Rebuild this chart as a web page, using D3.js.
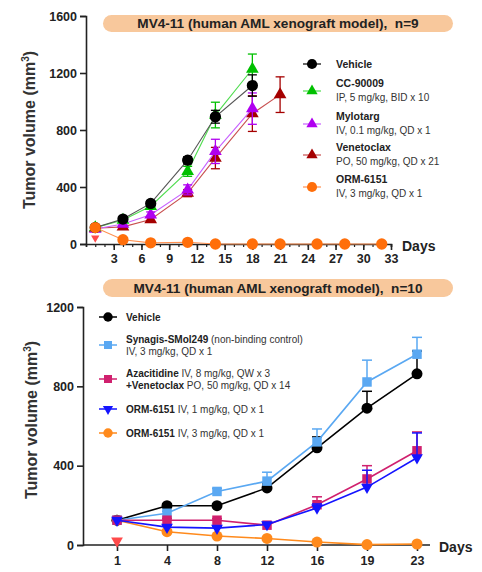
<!DOCTYPE html>
<html>
<head>
<meta charset="utf-8">
<script src="https://cdn.jsdelivr.net/npm/d3@7"></script>
<style>
  body { margin: 0; background: #fff; }
  svg { font-family: "Liberation Sans", Arial, sans-serif; }
  .tick text { font-weight: bold; fill: #222; }
  .domain, .tick line { stroke: #222; stroke-width: 1.6px; }
</style>
</head>
<body>
<div id="chart"></div>
<script>
// ---- top panel data (n=9) ----
const vehDays = [1, 4, 7, 11, 14, 18];
const vehVals = [115, 175, 285, 588, 893, 1112];
const vehErr = [10, 15, 20, 25, 45, 75];

const ccDays = [1, 4, 7, 11, 14, 18];
const ccVals = [115, 168, 265, 510, 905, 1228];
const ccErr = [10, 15, 20, 35, 90, 105];

const myloDays = [1, 4, 7, 11, 14, 18];
const myloVals = [105, 140, 205, 380, 650, 950];
const myloErr = [10, 12, 20, 35, 85, 110];

const venDays = [1, 4, 7, 11, 14, 18, 21];
const venVals = [110, 120, 172, 357, 603, 915, 1048];
const venErr = [10, 10, 15, 25, 75, 125, 125];

const ormDays = [1, 4, 7, 11, 14, 18, 21, 25, 28, 32];
const ormVals = [115, 30, 8, 12, 0, 0, 0, 0, 0, 0];

const topYTicks = [0, 400, 800, 1200, 1600];
const topXTicks = [3, 6, 9, 12, 15, 18, 21, 24, 27, 30, 33];
const topDoseDays = [1];

// ---- bottom panel data (n=10) ----
const botDays = ["1", "4", "8", "12", "16", "19", "23"];
const bVeh = [125, 198, 198, 288, 490, 690, 863];
const bVehErr = [8, 10, 10, 20, 55, 85, 115];
const bSyn = [125, 160, 270, 322, 520, 822, 962];
const bSynErr = [8, 10, 15, 45, 65, 110, 85];
const bAza = [125, 125, 125, 100, 203, 333, 475];
const bAzaErr = [8, 8, 8, 10, 40, 67, 95];
const bOrm1 = [125, 90, 85, 103, 187, 292, 440];
const bOrm1Err = [8, 8, 8, 10, 20, 85, 125];
const bOrm3 = [125, 67, 45, 33, 15, 2, 5];
const bOrm3Err = [8, 5, 4, 3, 2, 1, 1];
const botYTicks = [0, 400, 800, 1200];
const botDoseDays = ["1"];

const svg = d3.select("#chart").append("svg")
  .attr("width", 482)
  .attr("height", 572);

function banner(y, h, label) {
  svg.append("rect")
    .attr("x", 103).attr("y", y)
    .attr("width", 350).attr("height", h)
    .attr("rx", h / 2)
    .attr("fill", "#f8c89c");
  svg.append("text")
    .attr("x", 278).attr("y", y + h / 2 + 4.8)
    .attr("text-anchor", "middle")
    .style("white-space", "pre")
    .attr("font-size", "13.6px")
    .attr("font-weight", "bold")
    .attr("fill", "#222")
    .text(label);
}

function yTitle(x, y) {
  const t = svg.append("text")
    .attr("transform", `translate(${x},${y}) rotate(-90)`)
    .attr("text-anchor", "middle")
    .attr("font-size", "16px")
    .attr("font-weight", "600")
    .attr("fill", "#333");
  t.append("tspan").text("Tumor volume (mm");
  t.append("tspan").attr("dy", -6).attr("font-size", "10px").text("3");
  t.append("tspan").attr("dy", 6).text(")");
}

function symbol(g, type, color, x, y, size) {
  g.append("path")
    .attr("transform", `translate(${x},${y})` + (type === "down" ? " rotate(180)" : ""))
    .attr("d", d3.symbol().type(type === "circle" ? d3.symbolCircle :
      type === "square" ? d3.symbolSquare : d3.symbolTriangle).size(size)())
    .attr("fill", color);
}

// ================= TOP PANEL =================
banner(15, 17, "MV4-11 (human AML xenograft model),  n=9");
yTitle(35, 130);

const xTop = d3.scaleLinear().domain([0, 33]).range([86, 391]);
const yTop = d3.scaleLinear().domain([0, 1600]).range([244, 16]);

svg.append("g")
  .attr("transform", "translate(86,0)")
  .call(d3.axisLeft(yTop).tickValues(topYTicks).tickFormat(d3.format("d")).tickSize(6).tickPadding(3))
  .call(g => g.selectAll("text").attr("font-size", "12.5px"));

svg.append("g")
  .attr("transform", "translate(0,244)")
  .call(d3.axisBottom(xTop).tickValues(d3.range(0, 34)).tickSize(3).tickFormat(""))
  .call(g => g.selectAll(".tick line").style("stroke-width", "1.2px"));

svg.append("g")
  .attr("transform", "translate(0,244)")
  .call(d3.axisBottom(xTop).tickValues(topXTicks).tickSize(6).tickPadding(4))
  .call(g => g.select(".domain").remove())
  .call(g => g.selectAll("text").attr("font-size", "12.5px"));

svg.append("text")
  .attr("x", 402).attr("y", 251)
  .attr("font-size", "14px").attr("font-weight", "bold").attr("fill", "#222")
  .text("Days");

const topSeries = [
  { name: "Venetoclax", days: venDays, vals: venVals, err: venErr, color: "#a50000", line: "#c85050", type: "triangle" },
  { name: "Mylotarg", days: myloDays, vals: myloVals, err: myloErr, color: "#b000f0", line: "#c860ff", type: "triangle" },
  { name: "CC-90009", days: ccDays, vals: ccVals, err: ccErr, color: "#00c000", line: "#50dd50", type: "triangle" },
  { name: "Vehicle", days: vehDays, vals: vehVals, err: vehErr, color: "#000", line: "#555", type: "circle" },
  { name: "ORM-6151", days: ormDays, vals: ormVals, err: ormVals.map(() => 0), color: "#ff6e0a", line: "#ff9050", type: "circle" }
];

topSeries.forEach(s => {
  const pts = s.days.map((d, i) => ({ x: d, y: s.vals[i], e: s.err[i] }));
  const g = svg.append("g");
  g.append("path").datum(pts)
    .attr("fill", "none").attr("stroke", s.line).attr("stroke-width", 1.1)
    .attr("d", d3.line().x(d => xTop(d.x)).y(d => yTop(d.y)));
  pts.filter(p => p.e > 0).forEach(p => {
    const x = xTop(p.x), y1 = yTop(p.y + p.e), y2 = yTop(p.y - p.e);
    g.append("line").attr("x1", x).attr("x2", x).attr("y1", y1).attr("y2", y2)
      .attr("stroke", s.color).attr("stroke-width", 1.3);
    [y1, y2].forEach(yy => g.append("line")
      .attr("x1", x - 4.5).attr("x2", x + 4.5).attr("y1", yy).attr("y2", yy)
      .attr("stroke", s.color).attr("stroke-width", 1.3));
  });
  pts.forEach(p => symbol(g, s.type, s.color, xTop(p.x), yTop(p.y), s.type === "circle" ? 100 : 70));
});

topDoseDays.forEach(d => symbol(svg, "down", "#ff4a4a", xTop(d), 238, 30));

// top legend
const topLegend = [
  { name: "Vehicle", sub: "", color: "#000", type: "circle", y: 64 },
  { name: "CC-90009", sub: "IP, 5 mg/kg, BID x 10", color: "#00c000", line: "#50dd50", type: "triangle", y: 83 },
  { name: "Mylotarg", sub: "IV, 0.1 mg/kg, QD x 1", color: "#b000f0", line: "#c860ff", type: "triangle", y: 116 },
  { name: "Venetoclax", sub: "PO, 50 mg/kg, QD x 21", color: "#a50000", line: "#c85050", type: "triangle", y: 147 },
  { name: "ORM-6151", sub: "IV, 3 mg/kg, QD x 1", color: "#ff6e0a", line: "#ff9050", type: "circle", y: 179 }
];
topLegend.forEach(l => {
  const g = svg.append("g");
  const sy = l.sub ? l.y + 8 : l.y;
  g.append("line").attr("x1", 303).attr("x2", 321).attr("y1", sy).attr("y2", sy)
    .attr("stroke", l.line || l.color).attr("stroke-width", 1.2);
  symbol(g, l.type, l.color, 312, sy, l.type === "circle" ? 80 : 55);
  g.append("text").attr("x", 336).attr("y", l.y + 4)
    .attr("font-size", "10.5px").attr("font-weight", "bold").attr("fill", "#222")
    .text(l.name);
  if (l.sub) g.append("text").attr("x", 336).attr("y", l.y + 18)
    .attr("font-size", "10px").attr("fill", "#333").text(l.sub);
});

// ================= BOTTOM PANEL =================
banner(279, 18, "MV4-11 (human AML xenograft model),  n=10");
yTitle(37, 420);

const xBot = d3.scalePoint().domain(botDays).range([117, 417]);
const yBot = d3.scaleLinear().domain([0, 1200]).range([545, 307]);

svg.append("g")
  .attr("transform", "translate(83,0)")
  .call(d3.axisLeft(yBot).tickValues(botYTicks).tickFormat(d3.format("d")).tickSize(6).tickPadding(3))
  .call(g => g.selectAll("text").attr("font-size", "12.5px"));

svg.append("line")
  .attr("x1", 83).attr("x2", 430).attr("y1", 545).attr("y2", 545)
  .attr("stroke", "#222").attr("stroke-width", 1.6);

svg.append("g")
  .attr("transform", "translate(0,545)")
  .call(d3.axisBottom(xBot).tickSize(6).tickPadding(5))
  .call(g => g.select(".domain").remove())
  .call(g => g.selectAll("text").attr("font-size", "12.5px"));

svg.append("text")
  .attr("x", 439).attr("y", 552)
  .attr("font-size", "14px").attr("font-weight", "bold").attr("fill", "#222")
  .text("Days");

const botSeries = [
  { vals: bOrm3, err: bOrm3Err, color: "#ff8a1c", type: "circle" },
  { vals: bVeh, err: bVehErr, color: "#000", type: "circle" },
  { vals: bSyn, err: bSynErr, color: "#5aa8f2", type: "square" },
  { vals: bAza, err: bAzaErr, color: "#d0206e", type: "square" },
  { vals: bOrm1, err: bOrm1Err, color: "#1414ff", type: "down" }
];

botSeries.forEach(s => {
  const pts = botDays.map((d, i) => ({ x: d, y: s.vals[i], e: s.err[i] }));
  const g = svg.append("g");
  g.append("path").datum(pts)
    .attr("fill", "none").attr("stroke", s.color).attr("stroke-width", 1.6)
    .attr("d", d3.line().x(d => xBot(d.x)).y(d => yBot(d.y)));
  pts.forEach(p => {
    const x = xBot(p.x), y1 = yBot(p.y + p.e), y2 = yBot(p.y);
    g.append("line").attr("x1", x).attr("x2", x).attr("y1", y1).attr("y2", y2)
      .attr("stroke", s.color).attr("stroke-width", 1.5);
    g.append("line").attr("x1", x - 5).attr("x2", x + 5).attr("y1", y1).attr("y2", y1)
      .attr("stroke", s.color).attr("stroke-width", 1.5);
  });
  pts.forEach(p => symbol(g, s.type, s.color, xBot(p.x), yBot(p.y),
    s.type === "square" ? 90 : s.type === "down" ? 60 : 95));
});

botDoseDays.forEach(d => symbol(svg, "down", "#ff4a4a", xBot(d), 541, 60));

// bottom legend
const botLegend = [
  { bold: "Vehicle", rest: "", line2b: "", line2: "", color: "#000", type: "circle", y: 317 },
  { bold: "Synagis-SMol249", rest: " (non-binding control)", line2b: "", line2: "IV, 3 mg/kg, QD x 1", color: "#5aa8f2", type: "square", y: 339 },
  { bold: "Azacitidine", rest: " IV, 8 mg/kg, QW x 3", line2b: "+Venetoclax", line2: " PO, 50 mg/kg, QD x 14", color: "#d0206e", type: "square", y: 373 },
  { bold: "ORM-6151", rest: " IV, 1 mg/kg, QD x 1", line2b: "", line2: "", color: "#1414ff", type: "down", y: 409 },
  { bold: "ORM-6151", rest: " IV, 3 mg/kg, QD x 1", line2b: "", line2: "", color: "#ff8a1c", type: "circle", y: 433 }
];
botLegend.forEach(l => {
  const g = svg.append("g");
  const sy = l.line2 ? l.y + 6 : l.y;
  g.append("line").attr("x1", 99).attr("x2", 117).attr("y1", sy).attr("y2", sy)
    .attr("stroke", l.color).attr("stroke-width", 1.5);
  symbol(g, l.type, l.color, 108, sy, l.type === "circle" ? 70 : l.type === "down" ? 45 : 65);
  const t = g.append("text").attr("x", 126).attr("y", l.y + 4)
    .attr("font-size", "10px").attr("fill", "#333").style("white-space", "pre");
  t.append("tspan").attr("font-weight", "bold").attr("fill", "#222").text(l.bold);
  t.append("tspan").attr("font-size", "10px").text(l.rest);
  if (l.line2) {
    const t2 = g.append("text").attr("x", 126).attr("y", l.y + 16)
      .attr("font-size", "10px").attr("fill", "#333").style("white-space", "pre");
    if (l.line2b) t2.append("tspan").attr("font-weight", "bold").attr("fill", "#222").text(l.line2b);
    t2.append("tspan").attr("font-size", "10px").text(l.line2);
  }
});
</script>
</body>
</html>
